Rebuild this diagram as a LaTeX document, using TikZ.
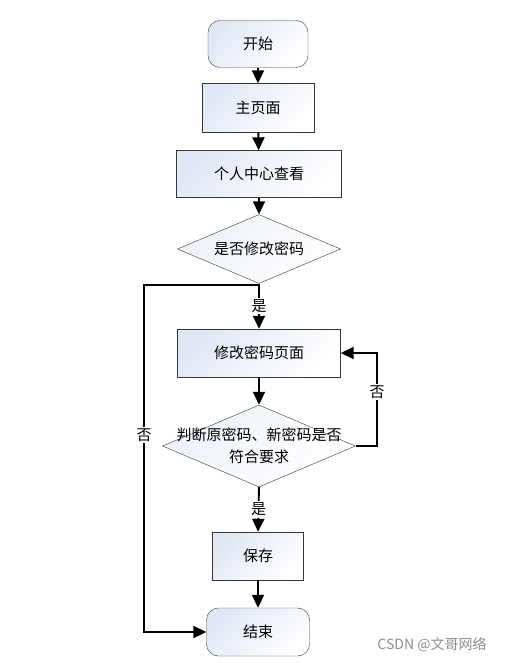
\documentclass[tikz,border=0pt]{standalone}
\usepackage{fontspec}
\setmainfont{Noto Sans CJK SC}
\usetikzlibrary{arrows.meta}
\usetikzlibrary{shapes.geometric}
\definecolor{boxblue}{RGB}{224,231,244}
\definecolor{boxline}{RGB}{55,55,55}

\begin{document}
\begin{tikzpicture}[x=1pt, y=-1pt, font=\fontsize{15}{19}\selectfont,
  proc/.style={rectangle, draw=boxline, thin, top color=boxblue, bottom color=white, shading angle=45, inner sep=0pt},
  term/.style={proc, rounded corners=12pt},
  decision/.style={diamond, aspect=2.36, draw=boxline, thin, top color=boxblue!60, bottom color=white, shading angle=45, inner sep=0pt},
  flow/.style={black, line width=1.9pt, -{Triangle[length=13pt,width=12pt]}},
  lbl/.style={fill=white, inner sep=1.5pt}]
\useasboundingbox (0,0) rectangle (516,663);

% boxes
\node[term, minimum width=100pt, minimum height=47pt] (start) at (258,44) {开始};
\node[proc, minimum width=112pt, minimum height=49pt] (home) at (258,108) {主页面};
\node[proc, minimum width=165pt, minimum height=47pt] (center) at (259,174) {个人中心查看};
\node[decision, minimum width=163pt, minimum height=69pt] (ask) at (259,249) {是否修改密码};
\node[proc, minimum width=163pt, minimum height=48pt] (page) at (259,353) {修改密码页面};
\node[decision, minimum width=193pt, minimum height=82pt,
  label={[align=center, font=\fontsize{15}{22}\selectfont]center:判断原密码、新密码是否\\符合要求}] (check) at (259,446) {};
\node[proc, minimum width=91pt, minimum height=48pt] (save) at (258,556) {保存};
\node[term, minimum width=103pt, minimum height=48pt] (stop) at (258,632) {结束};

% corners
\coordinate (noleft) at (144,285);
\coordinate (noright) at (377,446);

% arrows
\draw[flow] (start) -- (home);
\draw[flow] (home) -- (center);
\draw[flow] (center) -- (ask);
\draw[flow] (ask.south) -- node[lbl] {是} (page.north);
\draw[flow] (page) -- (check);
\draw[flow] (check.south) -- node[lbl] {是} (save.north);
\draw[flow] (save) -- (stop);
\draw[flow] (ask.south) -- (ask.south |- noleft) -- (noleft) |- node[lbl, pos=0.216] {否} (stop.west);
\draw[flow] (check.east) -- (noright) |- node[lbl, pos=0.29] {否} (page.east);

% watermark
\node[text=black!45, font=\fontsize{14}{16}\selectfont] (mark) at (432,645) {CSDN @文哥网络};
\end{tikzpicture}
\end{document}
